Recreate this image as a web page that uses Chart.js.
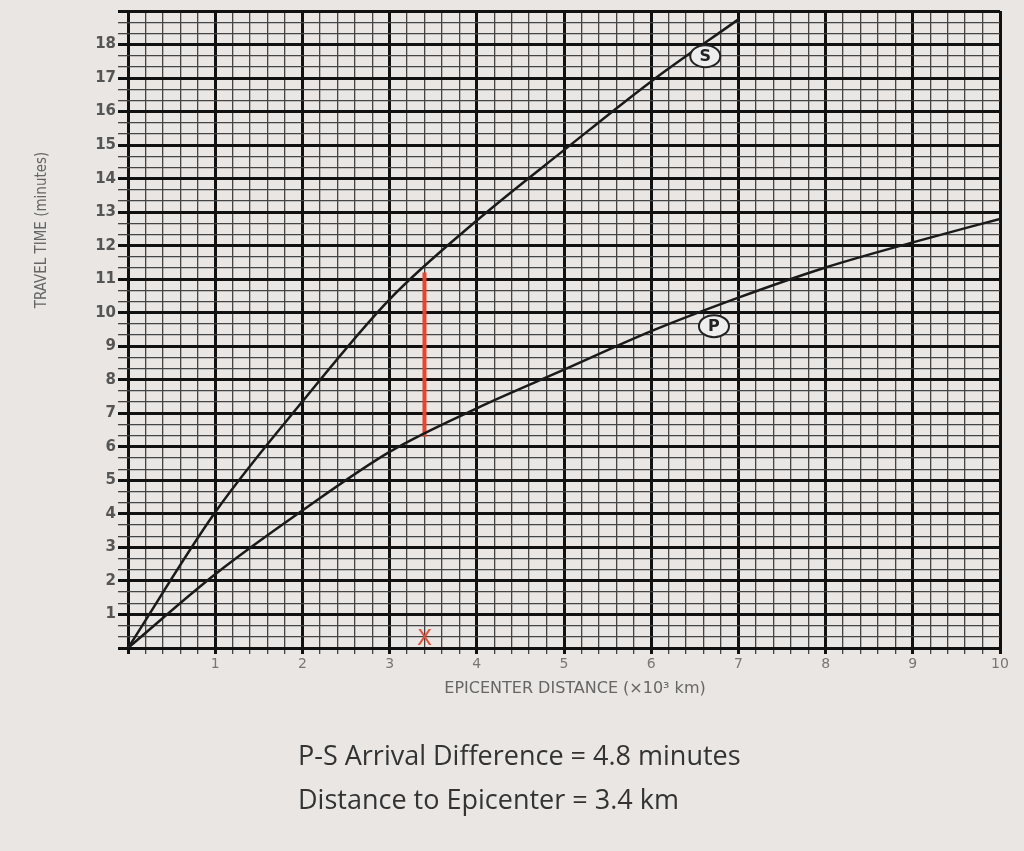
<!DOCTYPE html>
<html>
<head>
<meta charset="utf-8">
<script src="https://cdn.jsdelivr.net/npm/chart.js@4.4.0/dist/chart.umd.min.js"></script>
<style>
  body { margin: 0; background: #e9e6e3; }
  #wrap { position: relative; width: 1024px; height: 851px; }
  .note { position: absolute; left: 298px; font-family: "Open Sans", sans-serif; font-size: 27px; color: #333; }
</style>
</head>
<body>
<div id="wrap">
  <canvas id="c" width="1024" height="851"></canvas>
  <div class="note" style="top:736px">P-S Arrival Difference = 4.8 minutes</div>
  <div class="note" style="top:780px">Distance to Epicenter = 3.4 km</div>
</div>
<script>
// distance in 1000 km, travel time in minutes
let distances = [0, 1, 2, 3, 4, 5, 6, 7, 8, 9, 10];
let sWave = [0, 4.05, 7.35, 10.4, 12.75, 14.85, 16.9, 18.75];
let pWave = [0, 2.2, 4.1, 5.85, 7.15, 8.3, 9.45, 10.45, 11.35, 12.1, 12.8];
let markDistance = 3.4;
let markTimes = [6.3, 11.2];

let sPoints = sWave.map((v, i) => ({ x: distances[i], y: v }));
let pPoints = pWave.map((v, i) => ({ x: distances[i], y: v }));
let redPoints = markTimes.map(v => ({ x: markDistance, y: v }));

function near(v) { return Math.abs(v - Math.round(v)) < 0.01; }

const extras = {
  id: 'extras',
  afterDraw(chart) {
    let ctx = chart.ctx;
    let xs = chart.scales.x, ys = chart.scales.y;
    ctx.save();
    // circled labels
    [['S', 6.62, 17.65], ['P', 6.72, 9.6]].forEach(([t, x, y]) => {
      let px = xs.getPixelForValue(x), py = ys.getPixelForValue(y);
      ctx.fillStyle = '#eee';
      ctx.strokeStyle = '#222';
      ctx.lineWidth = 2;
      ctx.beginPath();
      ctx.ellipse(px, py, 15, 11, 0, 0, Math.PI * 2);
      ctx.fill();
      ctx.stroke();
      ctx.fillStyle = '#222';
      ctx.font = 'bold 16px "DejaVu Sans"';
      ctx.textAlign = 'center';
      ctx.textBaseline = 'middle';
      ctx.fillText(t, px, py + 1);
    });
    // red X
    ctx.fillStyle = '#e0503a';
    ctx.font = '22px "DejaVu Sans"';
    ctx.textAlign = 'center';
    ctx.textBaseline = 'middle';
    ctx.fillText('X', xs.getPixelForValue(markDistance), ys.getPixelForValue(0.25));
    // axis titles
    ctx.fillStyle = '#666';
    ctx.font = '16px "DejaVu Sans"';
    ctx.fillText('EPICENTER DISTANCE (×10³ km)', 575, 689);
    ctx.translate(42, 230);
    ctx.rotate(-Math.PI / 2);
    ctx.font = '15px "DejaVu Sans Condensed"';
    ctx.fillText('TRAVEL TIME (minutes)', 0, 0);
    ctx.restore();
  }
};

new Chart(document.getElementById('c'), {
  type: 'scatter',
  data: {
    datasets: [
      { data: sPoints, showLine: true, borderColor: '#1a1a1a', borderWidth: 2.5, pointRadius: 0, cubicInterpolationMode: 'monotone' },
      { data: pPoints, showLine: true, borderColor: '#1a1a1a', borderWidth: 2.5, pointRadius: 0, cubicInterpolationMode: 'monotone' },
      { data: redPoints, showLine: true, borderColor: '#e8452f', borderWidth: 4, pointRadius: 0 }
    ]
  },
  options: {
    responsive: false,
    animation: false,
    layout: { padding: { top: 2, right: 24, left: 0, bottom: 0 } },
    plugins: { legend: { display: false }, tooltip: { enabled: false } },
    scales: {
      x: {
        type: 'linear', min: 0, max: 10,
        afterFit(s) { s.height = 203; },
        afterBuildTicks(s) {
          let t = [];
          for (let i = 0; i <= 50; i++) t.push({ value: i / 5 });
          s.ticks = t;
        },
        grid: {
          color: c => near(c.tick.value) ? '#111' : '#444',
          lineWidth: c => near(c.tick.value) ? 3 : 1.3,
          tickLength: 6
        },
        border: { display: false },
        ticks: {
          autoSkip: false, maxRotation: 0, padding: 2,
          color: '#777', font: { size: 14, family: 'DejaVu Sans' },
          callback: v => (near(v) && v > 0) ? String(Math.round(v)) : ''
        }
      },
      y: {
        type: 'linear', min: 0, max: 19,
        afterFit(s) { s.width = 128; },
        afterBuildTicks(s) {
          let t = [];
          for (let i = 0; i <= 57; i++) t.push({ value: i / 3 });
          s.ticks = t;
        },
        grid: {
          color: c => near(c.tick.value) ? '#111' : '#444',
          lineWidth: c => near(c.tick.value) ? 3 : 1.3,
          tickLength: 10
        },
        border: { display: false },
        ticks: {
          autoSkip: false, padding: 2,
          color: '#555', font: { size: 15, weight: 'bold', family: 'DejaVu Sans' },
          callback: v => (near(v) && v > 0 && v < 19) ? String(Math.round(v)) : ''
        }
      }
    }
  },
  plugins: [extras]
});
</script>
</body>
</html>
